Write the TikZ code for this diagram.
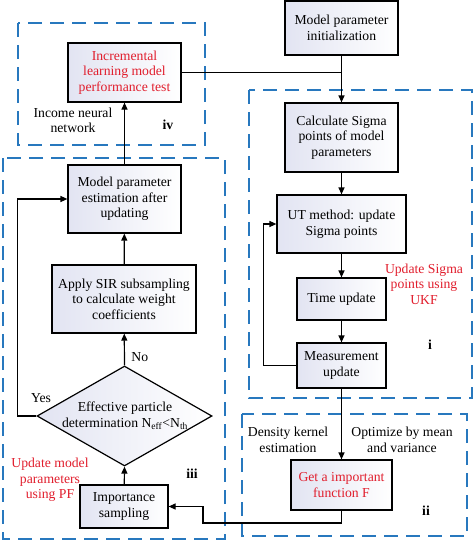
\documentclass[tikz,border=0pt]{standalone}
\usepackage{fontspec}
\setmainfont{Liberation Serif}
\usetikzlibrary{arrows.meta,shapes.geometric}
\definecolor{frameblue}{RGB}{40,120,190}
\definecolor{notered}{RGB}{225,30,45}
\definecolor{boxshade}{RGB}{226,228,242}

\begin{document}
\begin{tikzpicture}[x=1pt, y=-1pt,
    font=\fontsize{13.7pt}{15.5pt}\selectfont,
    >={Triangle[length=7pt,width=6pt]},
    procbox/.style={draw, line width=1.2pt, align=center, inner sep=2pt,
        left color=boxshade, right color=white},
    decision/.style={diamond, draw, line width=1.2pt, inner sep=0pt,
        minimum width=175pt, minimum height=100pt,
        left color=boxshade, right color=white},
    groupframe/.style={draw=frameblue, line width=1.6pt, dash pattern=on 14pt off 8pt},
    conn/.style={line width=1.2pt},
    romantag/.style={font=\fontsize{13.7pt}{15.5pt}\selectfont\bfseries}]
    \useasboundingbox (0,0) rectangle (474,543);

    % Dashed groups
    \draw[groupframe] (18,23) rectangle (205,145);
    \draw[groupframe] (3,158) rectangle (225,539);
    \draw[groupframe] (249,90) rectangle (472,398);
    \draw[groupframe] (242,414) rectangle (467,536);

    % UKF column
    \node[procbox, minimum width=113pt, minimum height=54pt] (init) at (341.5,28) {Model parameter\\initialization};
    \node[procbox, minimum width=113pt, minimum height=69pt] (calc) at (341.5,137.5) {Calculate Sigma\\points of model\\parameters};
    \node[procbox, minimum width=129pt, minimum height=58pt] (ut) at (341.5,224) {UT method: update\\Sigma points};
    \node[procbox, minimum width=89pt, minimum height=42pt] (time) at (341.5,299) {Time update};
    \node[procbox, minimum width=89pt, minimum height=45pt] (meas) at (341.5,365.5) {Measurement\\update};
    \node[procbox, minimum width=101pt, minimum height=50pt, text=notered] (func) at (341.5,485) {Get a important\\function F};

    % PF column
    \node[procbox, minimum width=88pt, minimum height=43pt] (imp) at (124,506.5) {Importance\\sampling};
    \node[decision] (dec) at (124.5,416) {};
    \node[align=center] (dectext) at (125,416) {Effective particle\\determination N\textsubscript{eff}<N\textsubscript{th}};
    \node[procbox, minimum width=144pt, minimum height=68pt] (sir) at (124,299) {Apply SIR subsampling\\to calculate weight\\coefficients};
    \node[procbox, minimum width=113pt, minimum height=68pt] (est) at (124.5,199) {Model parameter\\estimation after\\updating};
    \node[procbox, minimum width=113pt, minimum height=59pt, text=notered] (inc) at (124.5,72.5) {Incremental\\learning model\\performance test};

    % Side notes
    \node[align=center] (income) at (73,120.5) {Income neural\\network};
    \node[align=center, text=notered] (ukfnote) at (424,284) {Update Sigma\\points using\\UKF};
    \node[align=center] (kernel) at (288,440) {Density kernel\\estimation};
    \node[align=center] (optim) at (402,440) {Optimize by mean\\and variance};
    \node[align=center, text=notered] (pfnote) at (50,480) {Update model\\parameters\\using PF};
    \node[romantag] (tagi) at (430,345) {i};
    \node[romantag] (tagii) at (426,511) {ii};
    \node[romantag] (tagiii) at (192,474) {iii};
    \node[romantag] (tagiv) at (168,125) {iv};

    % Connectors
    \coordinate (join) at (init.south |- inc.east);
    \coordinate (fbend) at (203,523);
    \draw[conn] (inc.east) -- (join);
    \draw[conn, ->] (init) -- (calc);
    \draw[conn, ->] (calc) -- (ut);
    \draw[conn, ->] (ut) -- (time);
    \draw[conn, ->] (time) -- (meas);
    \draw[conn, ->] (meas.west) -- ++(-33,0) |- (ut.west);
    \draw[conn, ->] (meas) -- (func);
    \draw[conn, ->] (func.south) |- (fbend) |- (imp.east);
    \draw[conn, ->] (imp) -- (dec.south);
    \draw[conn, ->] (dec.north) -- node[pos=0.25, right=3pt] (no) {No} (sir);
    \draw[conn, ->] (dec.west) -- ++(-19,0) |- (est.west);
    \node (yes) at (41,398) {Yes};
    \draw[conn, ->] (sir) -- (est);
    \draw[conn, ->] (est) -- (inc);
\end{tikzpicture}
\end{document}
